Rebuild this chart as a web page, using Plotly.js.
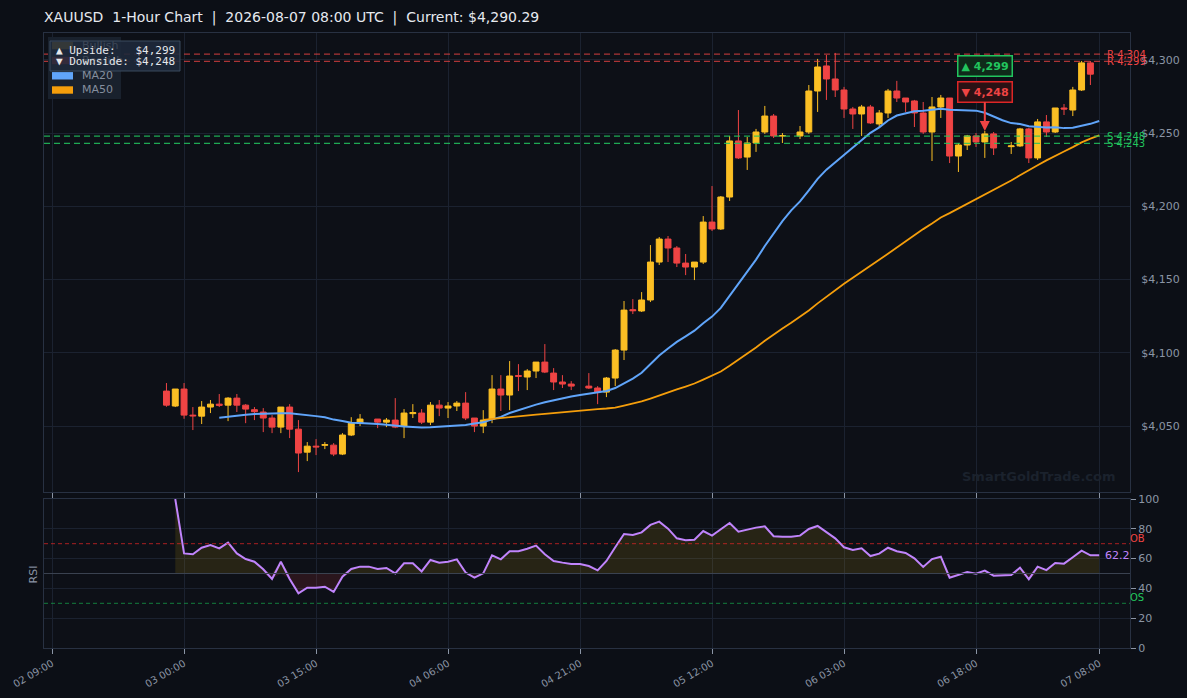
<!DOCTYPE html>
<html><head><meta charset="utf-8">
<script src="https://cdn.plot.ly/plotly-3.0.1.min.js"></script>
<style>html,body{margin:0;padding:0;background:#0c0f16;}#chart{width:1187px;height:698px;}</style>
</head><body><div id="chart"></div>
<script>
// ---------- DATA ----------
const symbol = 'XAUUSD';
const chartStamp = '2026-08-07 08:00 UTC';
const startUTC = Date.UTC(2026, 7, 2, 9, 0);   // first hourly slot (02 09:00)
const firstCandleSlot = 13;                      // first drawn candle slot

const openP = [4073.9,4063.7,4075.3,4057.5,4056.8,4063.0,4065.0,4064.3,4069.1,4064.3,
 4061.2,4059.6,4055.5,4049.3,4063.0,4047.9,4032.2,4036.3,4036.9,4037.0,
 4030.9,4043.9,4052.0,null,4054.8,4052.7,4054.1,4050.0,4058.5,4058.9,
 4052.7,4064.3,4062.3,4063.7,4065.7,4055.5,4050.0,4054.8,4075.3,4071.2,
 4084.5,4083.5,4087.6,4093.7,4086.2,4080.1,4078.7,null,4077.3,4076.0,
 4073.2,4082.8,4101.9,4129.5,4128.6,4136.1,4162.0,4177.7,4171.6,4161.3,
 4158.6,4162.0,4189.3,4184.6,4206.4,4244.7,4233.7,4243.3,4250.8,4261.7,
 4248.0,null,4248.1,4250.8,4278.8,4295.9,4287.0,4279.5,4266.5,4263.1,
 4267.9,4256.3,4263.8,4278.8,4274.0,4272.0,4263.8,4250.8,4267.9,4274.0,
 4234.4,4241.9,4248.1,4244.0,4249.5,null,4240.8,4241.3,4252.9,4233.1,
 4257.7,4250.8,4267.2,4265.8,4279.5,4298.0,null];
const highP = [4079.4,4075.3,4079.4,4063.0,4067.1,4067.8,4071.9,4069.8,4071.9,4065.0,
 4063.0,4062.3,4057.5,4063.0,4065.0,4054.1,4039.1,4041.1,4039.1,4038.4,
 4045.2,4056.1,4058.2,null,4054.8,4055.5,4069.1,4061.6,4065.0,4061.6,
 4066.4,4067.8,4066.4,4067.1,4073.2,4055.5,4060.9,4084.8,4084.8,4094.4,
 4092.3,4088.9,4093.7,4106.0,4089.6,4084.8,4080.7,null,4086.2,4077.3,
 4083.5,4102.6,4135.4,4136.7,4141.5,4173.6,4179.1,4179.8,4172.9,4167.5,
 4162.0,4193.4,4213.9,4207.1,4248.1,4265.8,4247.4,4252.9,4268.6,4263.1,
 4250.1,null,4254.9,4282.9,4300.7,4303.4,4304.8,4281.6,4267.9,4269.3,
 4269.3,4265.8,4280.2,4285.7,4274.0,4272.7,4271.3,4274.7,4276.1,4274.0,
 4243.3,4248.8,4250.1,4251.5,4250.8,null,4244.0,4253.6,4253.6,4259.7,
 4262.4,4267.2,4269.9,4281.6,4299.3,4299.3,null];
const lowP = [4063.2,4063.0,4055.0,4047.3,4051.4,4058.9,4063.0,4053.4,4059.6,4052.0,
 4054.1,4045.9,4045.2,4045.2,4041.8,4018.6,4026.1,4030.2,4034.3,4029.5,
 4030.2,4043.2,4050.0,null,4048.6,4049.3,4048.6,4041.8,4055.5,4051.4,
 4050.7,4056.8,4055.5,4060.3,4054.1,4045.9,4045.2,4052.0,4060.3,4060.9,
 4073.9,4074.6,4082.8,4086.2,4074.6,4076.0,4074.6,null,4075.3,4065.0,
 4069.8,4077.3,4095.1,4126.5,4127.9,4134.7,4160.0,4162.0,4158.6,4153.1,
 4149.7,4160.7,4183.2,4183.9,4203.7,4232.4,4224.9,4237.2,4249.5,4246.7,
 4243.3,null,4246.0,4249.5,4264.5,4272.7,4274.7,4260.4,4252.9,4248.1,
 4256.3,4253.6,4260.4,4271.3,4264.5,4254.2,4249.5,4231.0,4260.4,4229.6,
 4223.5,4238.5,4240.6,4233.1,4235.1,null,4235.8,4240.6,4229.6,4231.7,
 4247.4,4250.1,4262.4,4261.7,4278.8,4282.9,null];
const closeP = [4064.3,4075.3,4057.5,4057.0,4063.0,4065.0,4064.2,4069.1,4064.3,4061.6,
 4059.8,4055.5,4049.3,4063.0,4047.9,4031.6,4036.3,4035.8,4037.3,4030.9,
 4043.9,4052.0,4054.8,null,4052.7,4054.1,4049.3,4058.9,4059.2,4052.7,
 4064.3,4062.3,4063.7,4065.7,4055.5,4050.0,4054.1,4075.3,4071.2,4084.2,
 4084.0,4087.6,4093.7,4086.9,4080.1,4078.7,4077.3,null,4076.0,4073.2,
 4082.8,4101.9,4129.2,4128.8,4136.1,4162.0,4177.7,4171.6,4161.3,4158.6,
 4162.0,4189.3,4184.6,4206.4,4244.7,4233.1,4243.3,4250.8,4261.7,4248.1,
 4248.4,null,4250.8,4278.8,4295.2,4287.0,4279.5,4266.5,4263.1,4267.9,
 4257.0,4263.8,4278.8,4274.0,4271.3,4263.8,4250.8,4267.9,4274.0,4234.4,
 4241.9,4248.1,4244.0,4249.5,4239.9,null,4241.3,4252.9,4233.1,4257.7,
 4250.8,4267.2,4266.5,4279.5,4298.0,4290.29,null];

// moving-average values before enough drawn candles exist
const ma20Start = 19;
const ma20Early = [4055.7,4056.5,4057.2,4057.7,4058.2,4058.5,4058.7,4058.8,4058.7,4058.2,4057.5,4056.8,4056.0];
const ma50Start = 49;
const ma50Early = [4054.3,4054.8,4055.4,4056.0,4056.6,4057.2,4057.8,4058.4,4059.0,4059.5,4060.0,4060.5,4061.0];

// RSI(14) from slot 14 to slot 119
const rsiStart = 14;
const rsiVals = [100,63.5,62.9,67.3,69.1,66.9,70.7,63.5,59.7,57.9,
 52.8,46.3,57.9,46.3,36.7,40.5,40.5,41.1,37.6,47.9,
 53.0,54.6,54.6,53.0,53.7,50.1,56.8,56.8,51.4,59.1,
 57.3,57.9,59.5,50.6,47.2,50.1,62.2,59.5,64.9,64.9,
 66.6,68.7,62.9,58.4,57.3,56.4,56.4,55.0,52.1,58.4,
 67.6,76.5,75.8,77.6,82.6,84.8,80.1,73.6,72.3,72.7,
 78.5,75.4,79.7,83.9,78.1,79.7,80.8,81.7,75.0,74.7,
 74.7,75.4,79.9,81.9,77.6,73.6,67.6,65.8,66.9,61.7,
 63.3,67.3,64.9,63.8,60.2,54.4,59.7,61.3,47.2,49.0,
 51.0,49.9,51.9,48.5,48.5,49.0,53.9,46.1,54.6,52.3,
 57.0,56.6,60.9,65.3,62.2,62.2];

const resistanceLevels = [4304, 4299];
const supportLevels = [4248, 4243];
const upsideTarget = 4299;
const downsideTarget = 4248;
const markerSlot = 106;        // candle the downside marker points to

const tickSlots = [0, 15, 30, 45, 60, 75, 90, 105, 119];
const tickLabels = ['02 09:00','03 00:00','03 15:00','04 06:00','04 21:00','05 12:00','06 03:00','06 18:00','07 08:00'];

const legendNames = ['Bullish','Bearish','MA20','MA50'];
const legendColors = ['#fbbf24','#ef4444','#60a5fa','#f59e0b'];

// ---------- BUILD ----------
const nSlots = firstCandleSlot + closeP.length;   // 120
const slotTime = i => new Date(startUTC + i * 3600000).toISOString().slice(0, 16).replace('T', ' ');
const times = Array.from({length: nSlots}, (_, i) => slotTime(i));
const candleTimes = times.slice(firstCandleSlot);

const closeSlot = new Array(nSlots).fill(null);
let last = null;
for (let k = 0; k < closeP.length; k++) {
  if (closeP[k] != null) last = closeP[k];
  closeSlot[firstCandleSlot + k] = last;
}
function rolling(n, start, early) {
  const out = new Array(nSlots).fill(null);
  for (let i = start; i < nSlots; i++) {
    if (i - n + 1 >= firstCandleSlot) {
      let s = 0; for (let j = i - n + 1; j <= i; j++) s += closeSlot[j];
      out[i] = s / n;
    } else if (i - start < early.length) out[i] = early[i - start];
  }
  return out;
}
const ma20 = rolling(20, ma20Start, ma20Early);
const ma50 = rolling(50, ma50Start, ma50Early);

const rsiTimes = times.slice(rsiStart, rsiStart + rsiVals.length);
const rsiUp = rsiVals.map(v => Math.max(v, 50));
const rsiDn = rsiVals.map(v => Math.min(v, 50));
const rsiMid = rsiVals.map(() => 50);

const fmt = v => v.toLocaleString('en-US', {maximumFractionDigits: 0});
const lastClose = closeP.filter(v => v != null).slice(-1)[0];

const W = 1187, H = 698, ML = 44, MR = 57, MT = 33, MB = 50;
const PW = W - ML - MR, PH = H - MT - MB;
const px = X => (X - ML) / PW;
const py = Y => (H - MB - Y) / PH;

const bg = '#0d1017', grid = '#1b2230', frame = '#283142', tickc = '#8b95a5';
const F = 'DejaVu Sans';

const traces = [
  {type: 'candlestick', x: candleTimes, open: openP, high: highP, low: lowP, close: closeP,
   xaxis: 'x', yaxis: 'y', showlegend: false, hoverinfo: 'skip',
   increasing: {line: {color: '#fbbf24', width: 1}, fillcolor: '#fbbf24'},
   decreasing: {line: {color: '#ef4444', width: 1}, fillcolor: '#ef4444'}},
  {type: 'scatter', mode: 'lines', x: times, y: ma20, xaxis: 'x', yaxis: 'y', name: 'MA20',
   line: {color: '#60a5fa', width: 2}, showlegend: false, hoverinfo: 'skip'},
  {type: 'scatter', mode: 'lines', x: times, y: ma50, xaxis: 'x', yaxis: 'y', name: 'MA50',
   line: {color: '#f59e0b', width: 1.8}, showlegend: false, hoverinfo: 'skip'},
  {type: 'scatter', mode: 'lines', x: rsiTimes, y: rsiMid, xaxis: 'x2', yaxis: 'y2', line: {width: 0}, showlegend: false, hoverinfo: 'skip'},
  {type: 'scatter', mode: 'lines', x: rsiTimes, y: rsiUp, xaxis: 'x2', yaxis: 'y2', line: {width: 0}, fill: 'tonexty', fillcolor: 'rgba(234,179,8,0.12)', showlegend: false, hoverinfo: 'skip'},
  {type: 'scatter', mode: 'lines', x: rsiTimes, y: rsiMid, xaxis: 'x2', yaxis: 'y2', line: {width: 0}, showlegend: false, hoverinfo: 'skip'},
  {type: 'scatter', mode: 'lines', x: rsiTimes, y: rsiDn, xaxis: 'x2', yaxis: 'y2', line: {width: 0}, fill: 'tonexty', fillcolor: 'rgba(239,68,68,0.13)', showlegend: false, hoverinfo: 'skip'},
  {type: 'scatter', mode: 'lines', x: rsiTimes, y: rsiVals, xaxis: 'x2', yaxis: 'y2', name: 'RSI',
   line: {color: '#c084fc', width: 2}, showlegend: false, hoverinfo: 'skip'}
];

const shapes = [];
const annotations = [];

resistanceLevels.forEach(v => {
  shapes.push({type: 'line', xref: 'paper', x0: 0, x1: 1, yref: 'y', y0: v, y1: v,
    line: {color: 'rgba(239,68,68,0.7)', width: 1.2, dash: '6px,4px'}});
  annotations.push({xref: 'paper', x: px(1105), xanchor: 'left', yref: 'y', y: v, yanchor: 'middle',
    text: 'R ' + fmt(v), showarrow: false, font: {family: F, size: 10, color: '#ef4444'}});
});
supportLevels.forEach(v => {
  shapes.push({type: 'line', xref: 'paper', x0: 0, x1: 1, yref: 'y', y0: v, y1: v,
    line: {color: 'rgba(34,197,94,0.85)', width: 1.2, dash: '6px,4px'}});
  annotations.push({xref: 'paper', x: px(1105), xanchor: 'left', yref: 'y', y: v, yanchor: 'middle',
    text: 'S ' + fmt(v), showarrow: false, font: {family: F, size: 10, color: '#22c55e'}});
});

// RSI reference lines
shapes.push({type: 'line', xref: 'paper', x0: 0, x1: 1, yref: 'y2', y0: 70, y1: 70, line: {color: 'rgba(220,38,38,0.75)', width: 1, dash: '4px,3px'}});
shapes.push({type: 'line', xref: 'paper', x0: 0, x1: 1, yref: 'y2', y0: 30, y1: 30, line: {color: 'rgba(22,163,74,0.75)', width: 1, dash: '4px,3px'}});
shapes.push({type: 'line', xref: 'paper', x0: 0, x1: 1, yref: 'y2', y0: 50, y1: 50, line: {color: '#3a4250', width: 1}});
annotations.push({xref: 'paper', x: 1, xshift: -2, xanchor: 'left', yref: 'y2', y: 70, yanchor: 'top', yshift: 13,
  text: 'OB', showarrow: false, font: {family: F, size: 10, color: '#ef4444'}});
annotations.push({xref: 'paper', x: 1, xshift: -2, xanchor: 'left', yref: 'y2', y: 30, yanchor: 'top', yshift: 13,
  text: 'OS', showarrow: false, font: {family: F, size: 10, color: '#22c55e'}});
annotations.push({xref: 'x2', x: rsiTimes[rsiTimes.length - 1], xanchor: 'left', xshift: 4, yref: 'y2',
  y: rsiVals[rsiVals.length - 1], yanchor: 'middle', text: rsiVals[rsiVals.length - 1].toFixed(1),
  showarrow: false, font: {family: F, size: 11, color: '#c084fc'}});
annotations.push({xref: 'paper', x: px(32.5), xanchor: 'center', yref: 'paper', y: py(575), yanchor: 'middle',
  text: 'RSI', textangle: -90, showarrow: false, font: {family: F, size: 11, color: tickc}});

// manual legend (background + swatches + labels)
shapes.push({type: 'rect', xref: 'paper', yref: 'paper', x0: px(48), x1: px(121), y0: py(99), y1: py(37),
  fillcolor: '#19212d', line: {width: 0}});
const legY = [45.5, 60.5, 75.8, 90];
const legTextColor = ['#3d4757', '#3d4757', '#848e9e', '#848e9e'];  // first two sit under the target box
legendNames.forEach((n, k) => {
  shapes.push({type: 'rect', xref: 'paper', yref: 'paper', x0: px(52), x1: px(73),
    y0: py(legY[k] + 3.7), y1: py(legY[k] - 3.7), fillcolor: legendColors[k], line: {width: 0}});
  annotations.push({xref: 'paper', x: px(80), xanchor: 'left', yref: 'paper', y: py(legY[k]), yanchor: 'middle',
    text: n, showarrow: false, font: {family: F, size: 11, color: legTextColor[k]}});
});

// upside / downside box (drawn over the legend)
shapes.push({type: 'rect', xref: 'paper', yref: 'paper', x0: px(50), x1: px(180), y0: py(71), y1: py(41),
  fillcolor: 'rgba(30,41,59,0.9)', line: {color: '#3b4a5e', width: 1}});
const boxLines = ['\u25B2 Upside:\u00a0\u00a0\u00a0$' + fmt(upsideTarget), '\u25BC Downside: $' + fmt(downsideTarget)];
[50.6, 62].forEach((Y, k) => {
  annotations.push({xref: 'paper', x: px(54), xanchor: 'left', yref: 'paper', y: py(Y), yanchor: 'middle',
    text: boxLines[k], showarrow: false, font: {family: 'DejaVu Sans Mono', size: 11, color: '#e5e7eb'}});
});

// target markers
annotations.push({xref: 'x', x: times[markerSlot], yref: 'y', y: upsideTarget - 3, text: '<b>\u25B2 ' + fmt(upsideTarget) + '</b>',
  showarrow: false, bgcolor: '#0f2a1a', bordercolor: '#22c55e', borderwidth: 1.5, borderpad: 3,
  font: {family: F, size: 11, color: '#22c55e'}});
const mk = markerSlot - firstCandleSlot;
annotations.push({xref: 'x', x: times[markerSlot], yref: 'y', y: highP[mk], text: '<b>\u25BC ' + fmt(downsideTarget) + '</b>',
  showarrow: true, ax: 0, ay: -39, arrowhead: 2, arrowsize: 1, arrowwidth: 2, arrowcolor: '#ef4444',
  bgcolor: '#2a1114', bordercolor: '#dc2626', borderwidth: 1.5, borderpad: 3,
  font: {family: F, size: 11, color: '#ef4444'}});

// watermark
annotations.push({xref: 'paper', x: px(1118), xanchor: 'right', yref: 'paper', y: py(476), yanchor: 'middle',
  text: '<b>SmartGoldTrade.com</b>', showarrow: false, font: {family: F, size: 13, color: '#1b222d'}});

const xCommon = {type: 'date', range: ['2026-08-02 08:05', '2026-08-07 11:30'],
  tickvals: tickSlots.map(i => times[i]), ticktext: tickLabels,
  showgrid: true, gridcolor: grid, gridwidth: 1, zeroline: false,
  showline: true, mirror: true, linecolor: frame, linewidth: 1,
  ticks: 'outside', ticklen: 5, tickcolor: tickc, tickwidth: 1, fixedrange: true};

const layout = {
  width: W, height: H,
  margin: {l: ML, r: MR, t: MT, b: MB, pad: 0},
  paper_bgcolor: '#0c0f16', plot_bgcolor: bg,
  font: {family: F, color: tickc},
  hovermode: false, showlegend: false,
  boxgap: 0.18, boxgroupgap: 0.18,
  title: {text: symbol + '\u00a0 1-Hour Chart\u00a0 |\u00a0 ' + chartStamp + '\u00a0 |\u00a0 Current: $' +
      lastClose.toLocaleString('en-US', {minimumFractionDigits: 2}),
    x: 0, xref: 'paper', xanchor: 'left', y: 1 - 17 / H, yref: 'container', yanchor: 'middle',
    font: {family: F, size: 14, color: '#e6e9ef'}},
  xaxis: Object.assign({}, xCommon, {anchor: 'y', domain: [0, 1], showticklabels: false, rangeslider: {visible: false}}),
  xaxis2: Object.assign({}, xCommon, {anchor: 'y2', domain: [0, 1], matches: 'x', showticklabels: true,
    tickangle: -30, tickfont: {family: F, size: 10, color: tickc}}),
  yaxis: {domain: [py(492), 1], range: [4005, 4318.4], side: 'right', tick0: 4050, dtick: 50,
    tickprefix: '$', tickformat: ',.0f', showgrid: true, gridcolor: grid, zeroline: false,
    showline: true, mirror: true, linecolor: frame, ticks: 'outside', ticklen: 8, tickcolor: 'rgba(0,0,0,0)',
    tickfont: {family: F, size: 11, color: tickc}, fixedrange: true},
  yaxis2: {domain: [0, py(499)], range: [0, 100], side: 'right', dtick: 20, showgrid: true, gridcolor: grid,
    zeroline: false, showline: true, mirror: true, linecolor: frame, ticks: 'outside', ticklen: 5, tickcolor: tickc,
    tickfont: {family: F, size: 11, color: tickc}, fixedrange: true},
  shapes: shapes,
  annotations: annotations
};

Plotly.newPlot('chart', traces, layout, {displayModeBar: false, staticPlot: true});
</script>
</body></html>
